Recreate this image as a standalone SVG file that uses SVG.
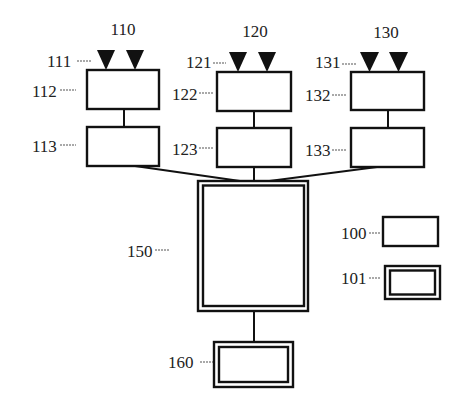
<svg xmlns="http://www.w3.org/2000/svg" width="474" height="412" viewBox="0 0 474 412">
<style>
.b{fill:#fff;stroke:#111;stroke-width:2.4}
.c{fill:none;stroke:#111;stroke-width:2}
.d{stroke:#555;stroke-width:1.2;stroke-dasharray:2 1}
.tri{fill:#111}
</style>
<rect width="474" height="412" fill="#fff"/>
<g id="connectors">
<line class="c" x1="124" y1="109" x2="124" y2="127"/>
<line class="c" x1="254" y1="111" x2="254" y2="128"/>
<line class="c" x1="388" y1="110" x2="388" y2="128"/>
<line class="c" x1="135" y1="166" x2="254" y2="183"/>
<line class="c" x1="254" y1="167" x2="254" y2="183"/>
<line class="c" x1="377" y1="167" x2="254" y2="183"/>
<line class="c" x1="254" y1="311" x2="254" y2="342"/>
</g>
<g font-family="Liberation Serif, DejaVu Serif, serif" font-size="17" fill="#222">
<g id="n110">
<text x="123" y="35" text-anchor="middle">110</text>
</g>
<g id="n111">
<text x="47" y="67">111</text>
<line class="d" x1="77" y1="61" x2="91" y2="61"/>
<polygon class="tri" points="97,50 115,50 106,70"/>
<polygon class="tri" points="126,50 144,50 135,70"/>
</g>
<g id="n112">
<text x="32" y="97">112</text>
<line class="d" x1="60" y1="90" x2="76" y2="90"/>
<rect class="b" x="87" y="70" width="72" height="39"/>
</g>
<g id="n113">
<text x="32" y="152">113</text>
<line class="d" x1="60" y1="145" x2="76" y2="145"/>
<rect class="b" x="87" y="127" width="72" height="39"/>
</g>
<g id="n120">
<text x="255" y="37" text-anchor="middle">120</text>
</g>
<g id="n121">
<text x="186" y="68">121</text>
<line class="d" x1="213" y1="63" x2="226" y2="63"/>
<polygon class="tri" points="229,52 247,52 238,72"/>
<polygon class="tri" points="258,52 276,52 267,72"/>
</g>
<g id="n122">
<text x="172" y="100">122</text>
<line class="d" x1="199" y1="93" x2="214" y2="93"/>
<rect class="b" x="217" y="72" width="74" height="39"/>
</g>
<g id="n123">
<text x="172" y="155">123</text>
<line class="d" x1="199" y1="148" x2="214" y2="148"/>
<rect class="b" x="217" y="128" width="74" height="39"/>
</g>
<g id="n130">
<text x="386" y="38" text-anchor="middle">130</text>
</g>
<g id="n131">
<text x="315" y="68">131</text>
<line class="d" x1="342" y1="64" x2="356" y2="64"/>
<polygon class="tri" points="360,52 379,52 369.5,72"/>
<polygon class="tri" points="389,52 408,52 398.5,72"/>
</g>
<g id="n132">
<text x="305" y="101">132</text>
<line class="d" x1="332" y1="95" x2="346" y2="95"/>
<rect class="b" x="351" y="72" width="73" height="38"/>
</g>
<g id="n133">
<text x="305" y="156">133</text>
<line class="d" x1="332" y1="150" x2="346" y2="150"/>
<rect class="b" x="351" y="128" width="73" height="39"/>
</g>
<g id="n150">
<text x="127" y="257">150</text>
<line class="d" x1="155" y1="250" x2="170" y2="250"/>
<rect class="b" x="198" y="181" width="110" height="130"/>
<rect class="b" x="203" y="185.5" width="101" height="120.5"/>
</g>
<g id="n160">
<text x="168" y="368">160</text>
<line class="d" x1="200" y1="362" x2="213" y2="362"/>
<rect class="b" x="214" y="342" width="79" height="45"/>
<rect class="b" x="219" y="347" width="69" height="35"/>
</g>
<g id="n100">
<text x="341" y="239">100</text>
<line class="d" x1="369" y1="233" x2="380" y2="233"/>
<rect class="b" x="383" y="217" width="55" height="29"/>
</g>
<g id="n101">
<text x="341" y="284">101</text>
<line class="d" x1="369" y1="278" x2="380" y2="278"/>
<rect class="b" x="385" y="266" width="55" height="33"/>
<rect class="b" x="390" y="270.5" width="45" height="24"/>
</g>
</g>
</svg>
